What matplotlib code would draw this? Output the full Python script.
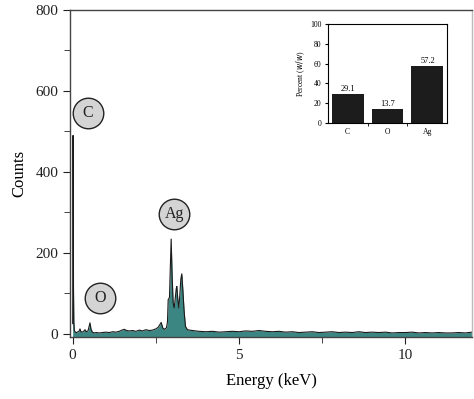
import numpy as np
import matplotlib
matplotlib.use("Agg")
import matplotlib.pyplot as plt
from matplotlib.ticker import MultipleLocator, FixedLocator

# EDS spectrum
energy = [0.00, 0.005, 0.012, 0.018, 0.025, 0.035, 0.05, 0.08, 0.12, 0.16, 0.19, 0.22,
          0.25, 0.29, 0.33, 0.37, 0.41, 0.46, 0.50, 0.52, 0.55, 0.59, 0.65, 0.70,
          0.80, 0.90, 1.00, 1.10, 1.20, 1.30, 1.40, 1.48, 1.55, 1.62, 1.70, 1.80,
          1.90, 2.00, 2.10, 2.20, 2.30, 2.40, 2.50, 2.57, 2.63, 2.66, 2.71, 2.77,
          2.82, 2.85, 2.87, 2.91, 2.93, 2.96, 2.99, 3.02, 3.05, 3.08, 3.11, 3.13,
          3.16, 3.19, 3.22, 3.25, 3.28, 3.31, 3.35, 3.39, 3.45, 3.52,
          3.6, 3.8, 4.0, 4.2, 4.4, 4.6, 4.8, 5.0, 5.2, 5.4, 5.6, 5.8, 6.0, 6.2,
          6.4, 6.6, 6.8, 7.0, 7.2, 7.4, 7.6, 7.8, 8.0, 8.2, 8.4, 8.6, 8.8, 9.0,
          9.2, 9.4, 9.6, 9.8, 10.0, 10.2, 10.4, 10.6, 10.8, 11.0, 11.2, 11.4,
          11.6, 11.8, 12.0]
counts = [25, 140, 490, 320, 110, 30, 8, 4, 3, 5, 6, 12,
          5, 4, 6, 10, 5, 7, 20, 27, 12, 4, 2, 3,
          2, 3, 4, 3, 5, 4, 6, 9, 11, 8, 7, 8,
          6, 9, 7, 10, 8, 9, 12, 16, 24, 28, 14, 11,
          15, 30, 84, 90, 150, 234, 140, 76, 64, 85, 110, 117,
          85, 64, 95, 135, 148, 110, 55, 18, 10, 9,
          8, 6, 5, 6, 4, 5, 6, 5, 7, 6, 8, 6, 5, 6,
          4, 5, 3, 4, 5, 3, 4, 5, 3, 4, 3, 5, 3, 4,
          3, 4, 2, 3, 3, 4, 2, 3, 2, 3, 2, 2,
          3, 2, 4]

# peak labels
peak_names = ["C", "O", "Ag"]
peak_x = [0.46, 0.82, 3.06]
peak_y = [546, 89, 296]

# inset: composition
elements = ["C", "O", "Ag"]
percent = [29.1, 13.7, 57.2]

plt.rcParams["font.family"] = ["Liberation Serif", "DejaVu Serif"]

fig = plt.figure(figsize=(4.74, 3.99), dpi=100)
ax = fig.add_axes([0.1477, 0.1554, 0.848, 0.8196])

ax.fill_between(energy, counts, -8, color="#3b8682", lw=0)
ax.plot(energy, counts, color="#1a1a1a", lw=0.8)

ax.set_xlim(-0.08, 12.0)
ax.set_ylim(-8, 800)
ax.xaxis.set_major_locator(MultipleLocator(5))
ax.xaxis.set_minor_locator(MultipleLocator(2.5))
ax.yaxis.set_major_locator(MultipleLocator(200))
ax.yaxis.set_minor_locator(MultipleLocator(100))
ax.tick_params(which="both", direction="out", labelsize=11, colors="#222222")
ax.tick_params(which="major", length=5)
ax.tick_params(which="minor", length=4)
for s in ax.spines.values():
    s.set_color("#444444")
    s.set_linewidth(1.0)
ax.spines["right"].set_color("#bbbbbb")
ax.set_xlabel("Energy (keV)", fontsize=12, labelpad=8)
ax.set_ylabel("Counts", fontsize=12, labelpad=6)

for name, px, py in zip(peak_names, peak_x, peak_y):
    ax.plot(px, py, marker="o", ms=22, mfc="#d4d4d4", mec="#222222", mew=1.0)
    ax.text(px, py, name, ha="center", va="center", fontsize=11.5, color="#222222")

# inset bar chart
ins = fig.add_axes([0.691, 0.692, 0.253, 0.248])
xpos = np.arange(len(elements))
ins.bar(xpos, percent, width=0.8, color="#1c1c1c")
for xp, v in zip(xpos, percent):
    ins.text(xp, v + 1, f"{v}", ha="center", va="bottom", fontsize=6)
ins.set_xlim(-0.5, 2.5)
ins.set_ylim(0, 100)
ins.set_xticks(xpos)
ins.set_xticklabels(elements)
ins.xaxis.set_minor_locator(FixedLocator([0.5, 1.5]))
ins.yaxis.set_major_locator(MultipleLocator(20))
ins.tick_params(which="both", direction="out", labelsize=5.5, pad=2)
ins.tick_params(axis="x", which="major", length=0, pad=4)
ins.tick_params(axis="x", which="minor", length=2.5)
ins.tick_params(axis="y", length=2.5)
for s in ins.spines.values():
    s.set_linewidth(0.8)
ins.set_ylabel("Percent ($w/w$)", fontsize=5.5, labelpad=2)

fig.savefig("out.png", dpi=100)
